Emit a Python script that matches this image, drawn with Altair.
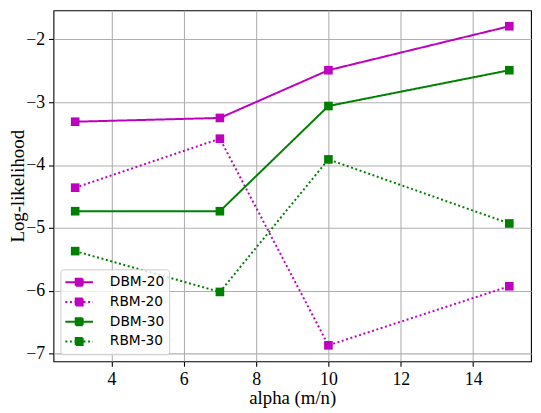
import altair as alt
import pandas as pd

alphas = [3, 7, 10, 15]
series_names = ["DBM-20", "RBM-20", "DBM-30", "RBM-30"]
dbm20 = [-3.31, -3.25, -2.49, -1.79]
rbm20 = [-4.36, -3.58, -6.87, -5.93]
dbm30 = [-4.735, -4.735, -3.06, -2.49]
rbm30 = [-5.37, -6.02, -3.91, -4.93]
x_ticks = [4, 6, 8, 10, 12, 14]
y_ticks = [-7, -6, -5, -4, -3, -2]

rows = []
for name, vals in zip(series_names, [dbm20, rbm20, dbm30, rbm30]):
    for a, v in zip(alphas, vals):
        rows.append({"alpha": a, "ll": v, "series": name})
df = pd.DataFrame(rows)

MAG = "#bf00bf"
GRN = "#008000"
colors = [MAG, MAG, GRN, GRN]
dashes = [[1, 0], [2, 2.6], [1, 0], [2, 2.6]]

W, H = 483, 355
SERIF = "Liberation Serif"

h = 0.5
seg = 4
parts = ["M-2,0L2,0", f"M{-h},{-h}L{h},{-h}L{h},{h}L{-h},{h}Z"]
for i in range(seg):
    a = -h + 2 * h * i / seg
    b = -h + 2 * h * (i + 1) / seg
    parts.append(f"M{a:.3f},{-h}L{b:.3f},{-h}")
    parts.append(f"M{a:.3f},{h}L{b:.3f},{h}")
    parts.append(f"M{-h},{a:.3f}L{-h},{b:.3f}")
    parts.append(f"M{h},{a:.3f}L{h},{b:.3f}")
glyph = "".join(parts)

legend = alt.Legend(
    title=None,
    orient="bottom-left",
    offset=7,
    symbolType=glyph,
    symbolSize=196,
    symbolOffset=6,
    symbolStrokeWidth=2,
    labelFont="DejaVu Sans",
    labelFontSize=13.9,
    labelColor="black",
    labelOffset=23,
    padding=5,
    rowPadding=4,
    fillColor="rgba(255,255,255,0.8)",
    strokeColor="#cccccc",
    cornerRadius=3,
    symbolOpacity=1,
)

axis_style = dict(
    domain=False, grid=True, gridColor="#b0b0b0", gridWidth=1.1,
    tickColor="black", tickWidth=1.1, tickSize=5,
    labelFont=SERIF, labelFontSize=18, labelColor="black", labelPadding=4,
    titleFont=SERIF, titleFontSize=19, titleFontWeight="normal", titleColor="black",
)

x_enc = alt.X("alpha:Q",
              scale=alt.Scale(domain=[2.4, 15.6], nice=False, zero=False),
              axis=alt.Axis(values=x_ticks, title="alpha (m/n)", format="d",
                            titlePadding=1, **axis_style))
y_enc = alt.Y("ll:Q",
              scale=alt.Scale(domain=[-7.124, -1.536], nice=False, zero=False),
              axis=alt.Axis(values=y_ticks, title="Log-likelihood", format="d",
                            titleX=-30, titleY=H / 2, titleBaseline="alphabetic",
                            **axis_style))
color_enc = alt.Color("series:N", scale=alt.Scale(domain=series_names, range=colors),
                      legend=legend)

points = alt.Chart(df).mark_square(size=76, filled=True, opacity=1).encode(
    x=x_enc, y=y_enc, color=color_enc)

lines = alt.Chart(df).mark_line(strokeWidth=2).encode(
    x=x_enc, y=y_enc, color=color_enc,
    strokeDash=alt.StrokeDash("series:N", scale=alt.Scale(domain=series_names, range=dashes),
                              legend=legend),
)

chart = alt.layer(points, lines).properties(
    width=W, height=H,
    autosize=alt.AutoSizeParams(type="none"),
    padding={"left": 46, "top": 0, "right": 2, "bottom": 50},
).configure(
    style={"guide-label": {"font": SERIF, "fontSize": 18, "fill": "black"}},
    axis=alt.AxisConfig(labelFont=SERIF, labelFontSize=18, labelColor="black"),
    view=alt.ViewConfig(stroke="black", strokeWidth=1.1),
)

chart.save("out.html", embed_options={"renderer": "svg", "actions": False})
